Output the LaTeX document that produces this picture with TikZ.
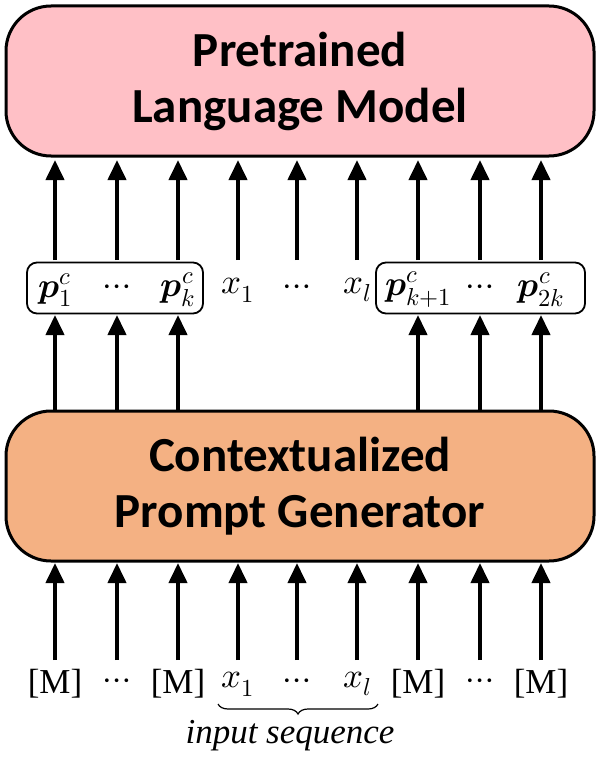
\documentclass[tikz,border=0pt]{standalone}
\usepackage{fontspec}
\setmainfont{Carlito}
\usepackage{unicode-math}
\setmathfont{Latin Modern Math}
\newfontfamily\serif{Liberation Serif}
\usetikzlibrary{decorations.pathreplacing,arrows.meta}
\definecolor{pinkf}{HTML}{FFC0C6}
\definecolor{orgf}{HTML}{F4B183}
\begin{document}
\begin{tikzpicture}[x=1pt,y=-1pt,
  big/.style={draw=black,line width=3pt,rounded corners=45pt,minimum width=588pt,minimum height=150pt,align=center,font=\fontsize{49}{56}\selectfont\bfseries},
  sm/.style={draw=black,line width=1.8pt,rounded corners=10pt},
  arr/.style={-{Triangle[length=20pt,width=18pt]},line width=4pt},
  lab/.style={font=\fontsize{35}{35}\selectfont,inner sep=0pt}]
\useasboundingbox (0,0) rectangle (600,757);
\node[big,fill=pinkf] (plm) at (300,81) {Pretrained\\Language Model};
\node[big,fill=orgf] (cpg) at (300,486) {Contextualized\\Prompt Generator};
\node[sm,minimum width=176pt,minimum height=51pt] (bl) at (115,288) {};
\node[sm,minimum width=209pt,minimum height=51pt] (br) at (480.5,288) {};
\foreach \n/\x/\t in {m1/55/{$\symbfit{p}_1^c$},m2/117/{$\cdots$},m3/178/{$\symbfit{p}_k^c$},m4/238/{$x_1$},m5/297/{$\cdots$},m6/357/{$x_l$},m7/418/{$\symbfit{p}_{k+1}^c$},m8/480/{$\cdots$},m9/541/{$\symbfit{p}_{2k}^c$}}
  \node[lab] (\n) at (\x,290) {\t};
\foreach \n/\x/\t in {b1/55/{\serif[M]},b2/117/{$\cdots$},b3/178/{\serif[M]},b4/238/{$x_1$},b5/297/{$\cdots$},b6/357/{$x_l$},b7/418/{\serif[M]},b8/480/{$\cdots$},b9/541/{\serif[M]}}
  \node[lab] (\n) at (\x,684) {\t};
\foreach \x in {55,117,178,238,297,357,418,480,541}{
  \coordinate (t\x) at (\x,260); \coordinate (u\x) at (\x,160);
  \draw[arr] (t\x) -- (u\x);
  \coordinate (s\x) at (\x,660); \coordinate (v\x) at (\x,563);
  \draw[arr] (s\x) -- (v\x);}
\foreach \x in {55,117,178,418,480,541}{
  \coordinate (w\x) at (\x,410); \coordinate (z\x) at (\x,315);
  \draw[arr] (w\x) -- (z\x);}
\coordinate (brL) at (218,704); \coordinate (brR) at (378,704);
\draw[decorate,decoration={brace,mirror,amplitude=10pt},line width=1.2pt] (brL) -- (brR);
\node[font=\fontsize{35}{35}\selectfont\serif\itshape] (is) at (290,736) {input sequence};
\end{tikzpicture}
\end{document}
